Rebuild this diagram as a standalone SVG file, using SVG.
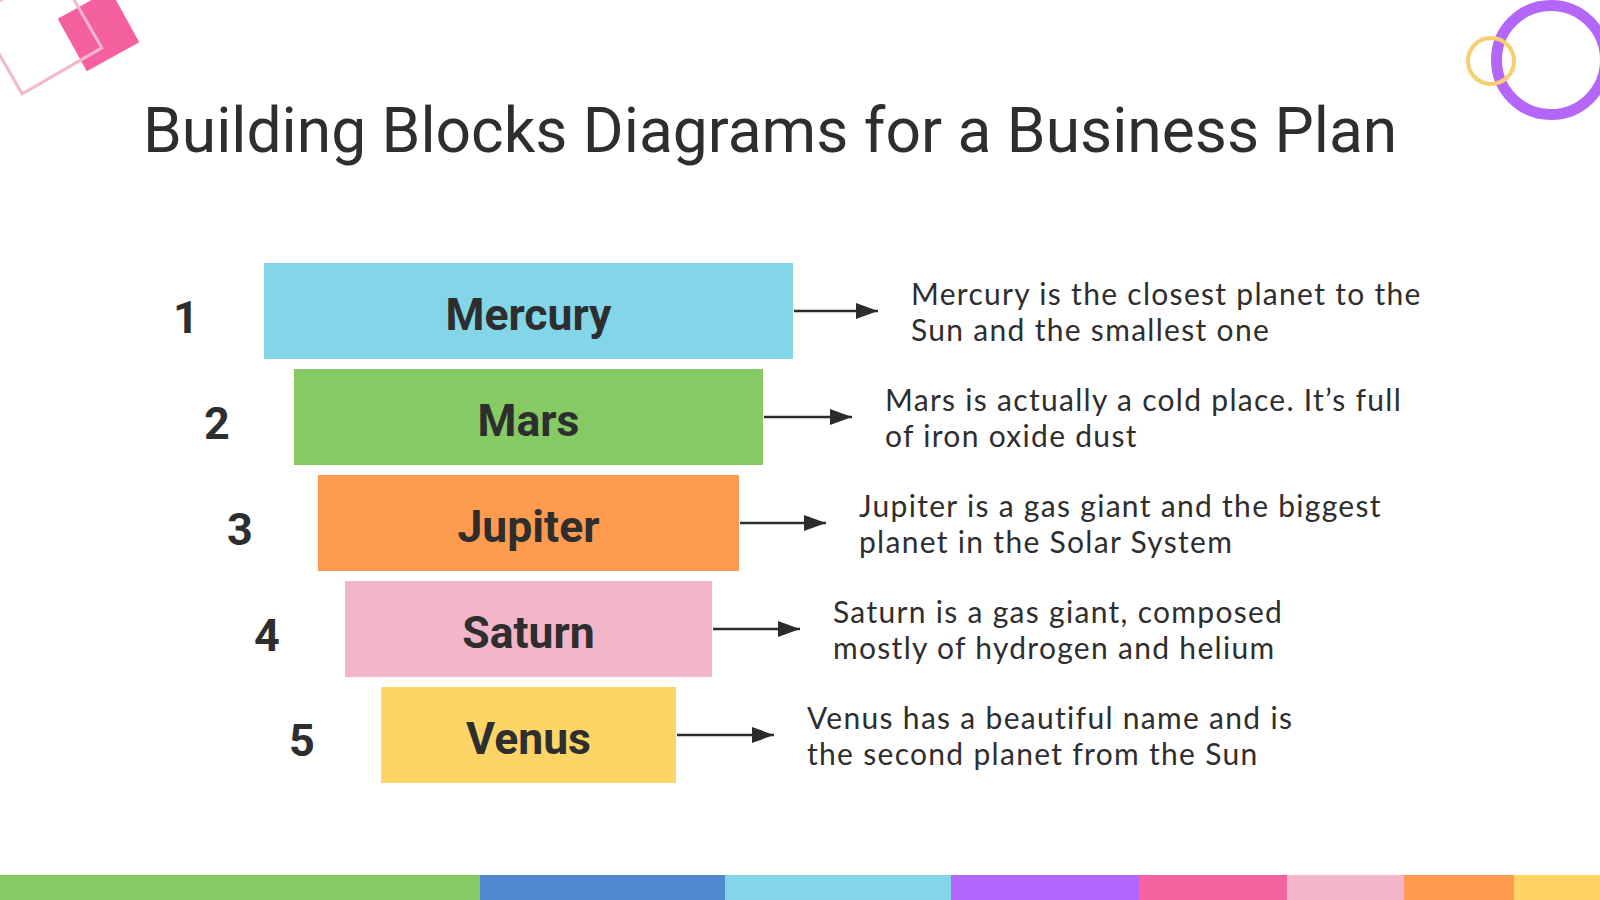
<svg xmlns="http://www.w3.org/2000/svg" width="1600" height="900" viewBox="0 0 1600 900">
  <defs>
    <style>
      .title { font-family: Roboto, "Liberation Sans", sans-serif; font-size: 62.3px; fill: #2E2E2E; }
      .num { font-family: Roboto, "Liberation Sans", sans-serif; font-weight: bold; font-size: 45px; fill: #2E2E2E; text-anchor: middle; }
      .lbl { font-family: Roboto, "Liberation Sans", sans-serif; font-weight: bold; font-size: 44.5px; fill: #2E2E2E; text-anchor: middle; }
      .desc { font-family: Lato, "Noto Sans", sans-serif; font-size: 30px; letter-spacing: 1.3px; fill: #2E2E2E; }
      .conn { stroke: #2B2B2B; stroke-width: 2.5; fill: none; }
    </style>
    <marker id="arrow" markerUnits="userSpaceOnUse" markerWidth="24" markerHeight="18" refX="22" refY="8" orient="auto">
      <path d="M0,0 L22,8 L0,16 Z" fill="#2B2B2B"/>
    </marker>
  </defs>

  <rect width="1600" height="900" fill="#FFFFFF"/>

  <!-- decorations -->
  <g id="deco-topleft">
    <rect x="68.5" y="0.5" width="60" height="60" fill="#F5609F" transform="rotate(-29 98.5 30.5)"/>
    <rect x="-7" y="-15" width="92" height="92" fill="none" stroke="#F2B8CB" stroke-width="3" transform="rotate(-30 39 31)"/>
  </g>
  <g id="deco-topright">
    <circle cx="1551" cy="60" r="54.5" fill="none" stroke="#B366F7" stroke-width="11"/>
    <circle cx="1491" cy="61" r="23" fill="none" stroke="#F7CF6E" stroke-width="4"/>
  </g>

  <text class="title" x="143" y="152">Building Blocks Diagrams for a Business Plan</text>

  <g id="node-mercury">
    <rect x="264" y="263" width="529" height="96" fill="#82D6E8"/>
    <text class="num" x="186" y="333">1</text>
    <text class="lbl" x="528.5" y="330">Mercury</text>
  </g>
  <g id="node-mars">
    <rect x="294" y="369" width="469" height="96" fill="#85CA63"/>
    <text class="num" x="217" y="439">2</text>
    <text class="lbl" x="528.5" y="436">Mars</text>
  </g>
  <g id="node-jupiter">
    <rect x="318" y="475" width="421" height="96" fill="#FF9B4F"/>
    <text class="num" x="240" y="545">3</text>
    <text class="lbl" x="528.5" y="542">Jupiter</text>
  </g>
  <g id="node-saturn">
    <rect x="345" y="581" width="367" height="96" fill="#F2B5CA"/>
    <text class="num" x="267" y="651">4</text>
    <text class="lbl" x="528.5" y="648">Saturn</text>
  </g>
  <g id="node-venus">
    <rect x="381" y="687" width="295" height="96" fill="#FDD567"/>
    <text class="num" x="302" y="756">5</text>
    <text class="lbl" x="528.5" y="754">Venus</text>
  </g>

  <g id="connectors">
    <line class="conn" x1="794" y1="311" x2="878" y2="311" marker-end="url(#arrow)"/>
    <line class="conn" x1="764" y1="417" x2="852" y2="417" marker-end="url(#arrow)"/>
    <line class="conn" x1="740" y1="523" x2="826" y2="523" marker-end="url(#arrow)"/>
    <line class="conn" x1="713" y1="629" x2="800" y2="629" marker-end="url(#arrow)"/>
    <line class="conn" x1="677" y1="735" x2="774" y2="735" marker-end="url(#arrow)"/>
  </g>

  <g id="desc-mercury">
    <text class="desc" x="911" y="305">Mercury is the closest planet to the</text>
    <text class="desc" x="911" y="341">Sun and the smallest one</text>
  </g>
  <g id="desc-mars">
    <text class="desc" x="885" y="411">Mars is actually a cold place. It’s full</text>
    <text class="desc" x="885" y="447">of iron oxide dust</text>
  </g>
  <g id="desc-jupiter">
    <text class="desc" x="859" y="517">Jupiter is a gas giant and the biggest</text>
    <text class="desc" x="859" y="553">planet in the Solar System</text>
  </g>
  <g id="desc-saturn">
    <text class="desc" x="833" y="623">Saturn is a gas giant, composed</text>
    <text class="desc" x="833" y="659">mostly of hydrogen and helium</text>
  </g>
  <g id="desc-venus">
    <text class="desc" x="807" y="729">Venus has a beautiful name and is</text>
    <text class="desc" x="807" y="765">the second planet from the Sun</text>
  </g>

  <g id="bottom-bar">
    <rect x="0" y="875" width="480" height="25" fill="#85CA63"/>
    <rect x="480" y="875" width="245" height="25" fill="#4F89D0"/>
    <rect x="725" y="875" width="226" height="25" fill="#82D6E8"/>
    <rect x="951" y="875" width="188" height="25" fill="#B366FB"/>
    <rect x="1139" y="875" width="148" height="25" fill="#F462A0"/>
    <rect x="1287" y="875" width="117" height="25" fill="#F2B5CA"/>
    <rect x="1404" y="875" width="110" height="25" fill="#FF9A4F"/>
    <rect x="1514" y="875" width="86" height="25" fill="#FFD366"/>
  </g>
</svg>
